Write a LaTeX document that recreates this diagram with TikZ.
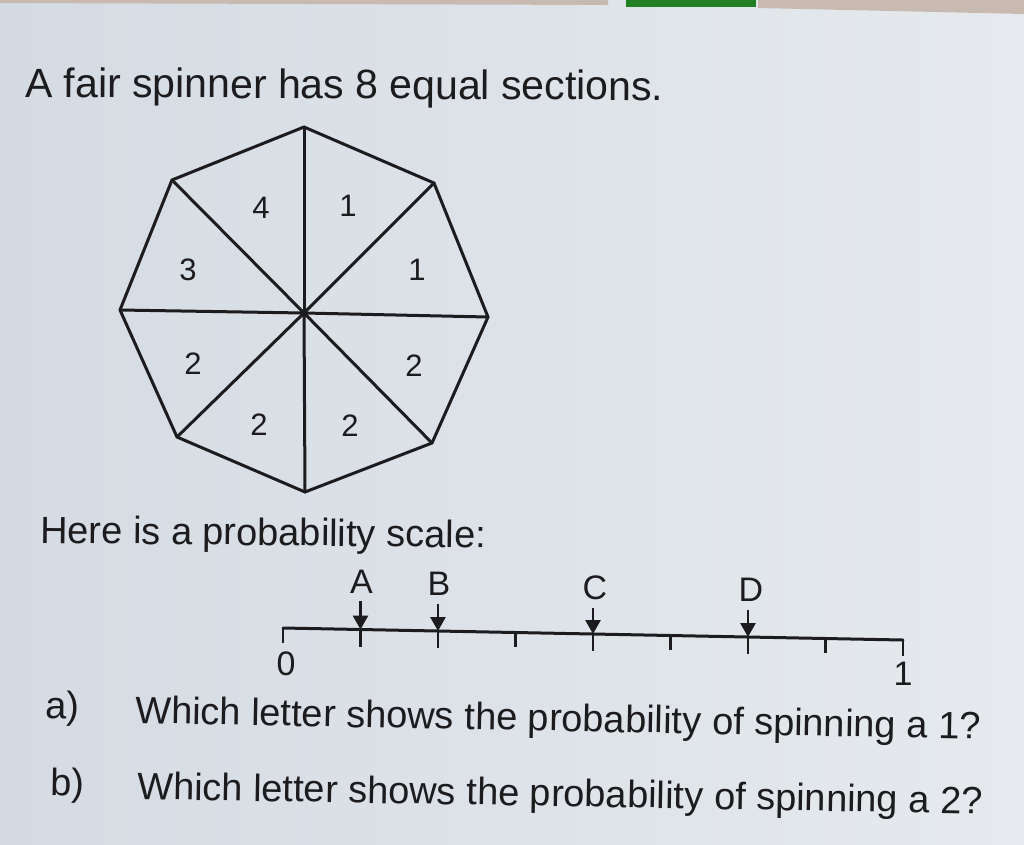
\documentclass[tikz,border=0pt]{standalone}
\usepackage{fontspec}
\setmainfont{Liberation Sans}
\usetikzlibrary{calc,arrows.meta}
\definecolor{ink}{RGB}{28,28,30}
\definecolor{bgleft}{RGB}{212,219,226}
\definecolor{bgmid}{RGB}{242,244,246}
\definecolor{bgright}{RGB}{230,234,238}
\definecolor{beige}{RGB}{200,186,176}
\definecolor{barGreen}{RGB}{34,128,36}
\tikzset{
  txt/.style={inner sep=0pt, anchor=base west, text=ink, font=\fontsize{38}{46}\selectfont},
  num/.style={inner sep=0pt, text=ink, font=\fontsize{31}{37}\selectfont},
  lab/.style={inner sep=0pt, text=ink, font=\fontsize{34}{40}\selectfont},
  edge/.style={draw=ink, line width=3pt, line join=round, line cap=round},
  scaleline/.style={draw=ink, line width=3pt, line cap=round},
  tickmark/.style={draw=ink, line width=2.6pt},
  arr/.style={draw=ink, line width=2.8pt, -{Triangle[width=15pt,length=14pt]}}
}
\begin{document}
\begin{tikzpicture}[x=1pt,y=1pt]
\useasboundingbox (0,0) rectangle (1024,-844);
% background
\shade[left color=bgleft, middle color=bgmid, right color=bgright] (0,0) rectangle (1024,-844);
% top bars
\fill[beige] (0,0) -- (608,0) -- (608,-5) -- (0,-3) -- cycle;
\fill[barGreen] (626,0) rectangle (756,-7);
\fill[beige] (758,0) -- (1024,0) -- (1024,-14) -- (758,-8) -- cycle;

% title
\node[txt, font=\fontsize{41}{48}\selectfont, rotate=-0.3] (title) at (25,-97) {A fair spinner has 8 equal sections.};

% spinner
\coordinate (v1) at (304,-127);
\coordinate (v2) at (434,-183);
\coordinate (v3) at (488,-317);
\coordinate (v4) at (432,-443);
\coordinate (v5) at (305,-492);
\coordinate (v6) at (177,-437);
\coordinate (v7) at (120,-310);
\coordinate (v8) at (172,-180);
\node[circle, fill=ink, inner sep=0pt, minimum size=8pt] (c) at (304,-313) {};
\draw[edge] (v1) -- (v2) -- (v3) -- (v4) -- (v5) -- (v6) -- (v7) -- (v8) -- cycle;
\foreach \v in {v1,v2,v3,v4,v5,v6,v7,v8} \draw[edge] (c.center) -- (\v);
\node[num] (n4) at (261,-208) {4};
\node[num] (n1a) at (348,-206) {1};
\node[num] (n3) at (188,-270) {3};
\node[num] (n1b) at (417,-270) {1};
\node[num] (n2a) at (193,-364) {2};
\node[num] (n2b) at (414,-366) {2};
\node[num] (n2c) at (259,-425) {2};
\node[num] (n2d) at (350,-426) {2};

% probability scale text
\node[txt, rotate=-0.6] (here) at (40,-543) {Here is a probability scale:};

% scale
\coordinate (s0) at (283,-628);
\coordinate (s8) at (903,-640);
\foreach \k in {1,...,7} \coordinate (s\k) at ($(s0)!\k/8!(s8)$);
\draw[scaleline] (s0) -- (s8);
\draw[tickmark] (s0) -- ++(0,-15);
\draw[tickmark] (s8) -- ++(0,-16);
\foreach \k in {1,2,4,6} \draw[tickmark] (s\k) -- ++(0,-17);
\foreach \k in {3,5,7} \draw[tickmark] (s\k) -- ++(0,-14);
\node[lab] (A) at ($(s1)+(1,48)$) {A};
\node[lab] (B) at ($(s2)+(1,47)$) {B};
\node[lab] (C) at ($(s4)+(2,46)$) {C};
\node[lab] (D) at ($(s6)+(3,47)$) {D};
\draw[arr, shorten <=8pt] (s1 |- A.south) -- (s1);
\draw[arr, shorten <=8pt] (s2 |- B.south) -- (s2);
\draw[arr, shorten <=8pt] (s4 |- C.south) -- (s4);
\draw[arr, shorten <=8pt] (s6 |- D.south) -- (s6);
\node[lab] (zero) at (286,-664) {0};
\node[lab] (one) at (903,-674) {1};

% questions
\node[txt, rotate=-1] (qa) at (45,-718) {a)};
\node[txt, rotate=-1.1] (qa1) at (135,-723) {Which letter shows the probability};
\node[txt, rotate=-1.1] (qa2) at (qa1.base east) {\ of spinning a 1?};
\node[txt, rotate=-1] (qb) at (50,-795) {b)};
\node[txt, rotate=-1.0] (qb1) at (137,-799) {Which letter shows the probability};
\node[txt, rotate=-1.0] (qb2) at (qb1.base east) {\ of spinning a 2?};
\end{tikzpicture}
\end{document}
